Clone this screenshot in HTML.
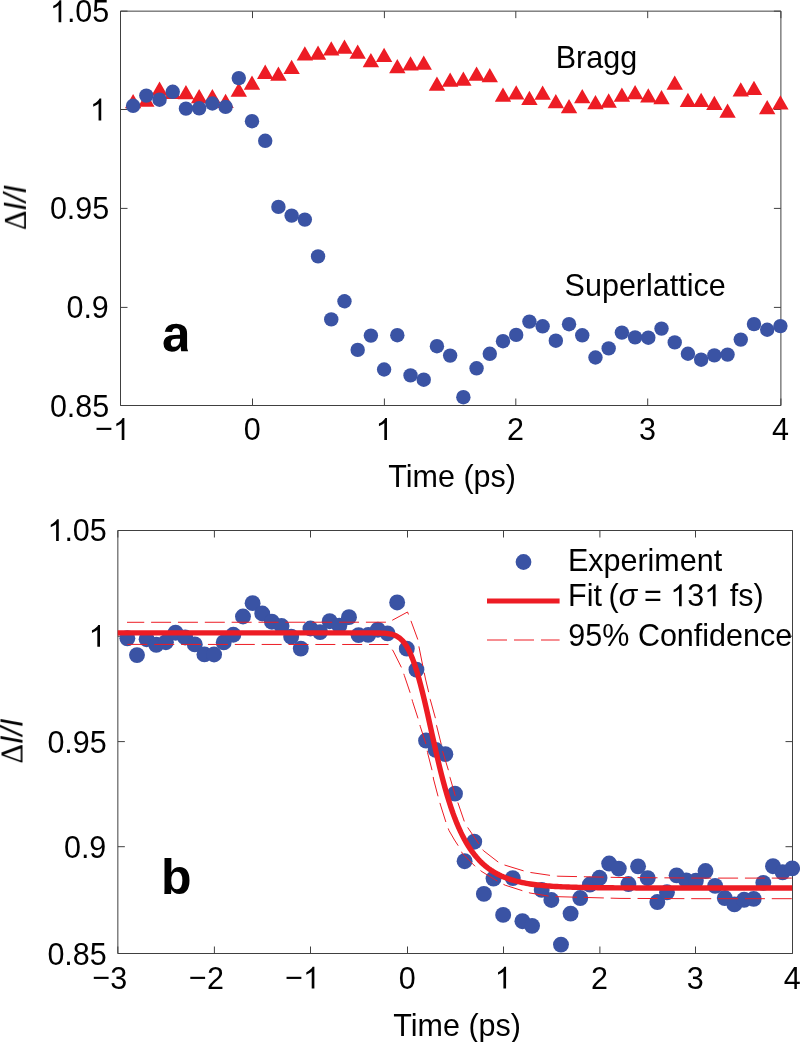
<!DOCTYPE html>
<html><head><meta charset="utf-8"><style>
html,body{margin:0;padding:0;background:#fff;}
svg{display:block;}
text{font-family:"Liberation Sans",sans-serif;font-size:30.5px;fill:#000;}
.t{opacity:0.999}
</style></head><body>
<svg width="800" height="1042" viewBox="0 0 800 1042">
<rect width="800" height="1042" fill="#fff"/>
<g class="t">
<path d="M120.5 11.15H780.9V405.5H120.5Z" fill="none" stroke="#404040" stroke-width="1"/>
<path d="M120.5 405.5v-7M120.5 11.15v7M252.5 405.5v-7M252.5 11.15v7M384.4 405.5v-7M384.4 11.15v7M515.8 405.5v-7M515.8 11.15v7M647.7 405.5v-7M647.7 11.15v7M780.9 405.5v-7M780.9 11.15v7M120.5 11.15h7M780.9 11.15h-7M120.5 109.5h7M780.9 109.5h-7M120.5 208.4h7M780.9 208.4h-7M120.5 307.4h7M780.9 307.4h-7M120.5 405.5h7M780.9 405.5h-7" stroke="#404040" stroke-width="1" fill="none"/>
<path d="M117.85 530.5H792.5V953.5H117.85Z" fill="none" stroke="#404040" stroke-width="1"/>
<path d="M117.85 953.5v-7M117.85 530.5v7M214.4 953.5v-7M214.4 530.5v7M310.5 953.5v-7M310.5 530.5v7M407.5 953.5v-7M407.5 530.5v7M503.5 953.5v-7M503.5 530.5v7M599.9 953.5v-7M599.9 530.5v7M695.5 953.5v-7M695.5 530.5v7M792.5 953.5v-7M792.5 530.5v7M117.85 530.5h7M792.5 530.5h-7M117.85 636.2h7M792.5 636.2h-7M117.85 741.6h7M792.5 741.6h-7M117.85 846.7h7M792.5 846.7h-7M117.85 953.5h7M792.5 953.5h-7" stroke="#404040" stroke-width="1" fill="none"/>
<path transform="translate(49.92 22.15) scale(0.01489 -0.01489)" d="M763 0H583V1147C540 1106 483 1065 413 1024C343 983 280 952 223 931V1105C324 1152 412 1210 487 1277C562 1344 615 1409 646 1472H763Z"/>
<text x="66.88" y="22.15">.05</text>
<path transform="translate(89.89 120.5) scale(0.01489 -0.01489)" d="M763 0H583V1147C540 1106 483 1065 413 1024C343 983 280 952 223 931V1105C324 1152 412 1210 487 1277C562 1344 615 1409 646 1472H763Z"/>
<text x="49.92" y="219.4">0.95</text>
<text x="66.45" y="318.4">0.9</text>
<text x="49.92" y="416.5">0.85</text>
<path transform="translate(47.42 541.1) scale(0.01489 -0.01489)" d="M763 0H583V1147C540 1106 483 1065 413 1024C343 983 280 952 223 931V1105C324 1152 412 1210 487 1277C562 1344 615 1409 646 1472H763Z"/>
<text x="64.38" y="541.1">.05</text>
<path transform="translate(88.64 646.8) scale(0.01489 -0.01489)" d="M763 0H583V1147C540 1106 483 1065 413 1024C343 983 280 952 223 931V1105C324 1152 412 1210 487 1277C562 1344 615 1409 646 1472H763Z"/>
<text x="47.42" y="752.8">0.95</text>
<text x="63.95" y="857.9">0.9</text>
<text x="47.42" y="964.5">0.85</text>
<text x="95.21" y="439.1">−</text>
<path transform="translate(113.02 440) scale(0.01489 -0.01489)" d="M763 0H583V1147C540 1106 483 1065 413 1024C343 983 280 952 223 931V1105C324 1152 412 1210 487 1277C562 1344 615 1409 646 1472H763Z"/>
<text x="243.72" y="440">0</text>
<path transform="translate(375.62 440) scale(0.01489 -0.01489)" d="M763 0H583V1147C540 1106 483 1065 413 1024C343 983 280 952 223 931V1105C324 1152 412 1210 487 1277C562 1344 615 1409 646 1472H763Z"/>
<text x="507.02" y="440">2</text>
<text x="638.92" y="440">3</text>
<text x="772.12" y="440">4</text>
<text x="92.56" y="987.7">−</text>
<text x="110.37" y="988.6">3</text>
<text x="189.11" y="987.7">−</text>
<text x="206.92" y="988.6">2</text>
<text x="285.21" y="987.7">−</text>
<path transform="translate(303.02 988.6) scale(0.01489 -0.01489)" d="M763 0H583V1147C540 1106 483 1065 413 1024C343 983 280 952 223 931V1105C324 1152 412 1210 487 1277C562 1344 615 1409 646 1472H763Z"/>
<text x="398.72" y="988.6">0</text>
<path transform="translate(494.72 988.6) scale(0.01489 -0.01489)" d="M763 0H583V1147C540 1106 483 1065 413 1024C343 983 280 952 223 931V1105C324 1152 412 1210 487 1277C562 1344 615 1409 646 1472H763Z"/>
<text x="591.12" y="988.6">2</text>
<text x="686.72" y="988.6">3</text>
<text x="783.72" y="988.6">4</text>
<text x="388.31" y="487">Time (ps)</text>
<text x="393.31" y="1035.75">Time (ps)</text>
<text x="555.75" y="68">Bragg</text>
<text x="564.61" y="295.8">Superlattice</text>
<path transform="translate(161.986 351.2) scale(0.025073 -0.024902)" d="M393 -20Q236 -20 148.0 65.5Q60 151 60 306Q60 474 169.5 562.0Q279 650 487 652L720 656V711Q720 817 683.0 868.5Q646 920 562 920Q484 920 447.5 884.5Q411 849 402 767L109 781Q136 939 253.5 1020.5Q371 1102 574 1102Q779 1102 890.0 1001.0Q1001 900 1001 714V160Q1001 60 1045 0H765Q750 70 749 193Q631 -20 393 -20ZM720 501 576 499Q478 495 437.0 477.5Q396 460 374.5 424.0Q353 388 353 328Q353 251 388.5 213.5Q424 176 483 176Q549 176 603.5 212.0Q658 248 689.0 311.5Q720 375 720 446Z"/>
<text x="161" y="894.3" style="font-size:50px;font-weight:bold">b</text>
<text transform="translate(25.9 207.6) rotate(-90)" text-anchor="middle"><tspan style="font-family:'Liberation Serif',serif">Δ</tspan><tspan font-style="italic">I/I</tspan></text>
<text transform="translate(22.5 741.1) rotate(-90)" text-anchor="middle"><tspan style="font-family:'Liberation Serif',serif">Δ</tspan><tspan font-style="italic">I/I</tspan></text>
<text x="567.9" y="570.9">Experiment</text>
<text x="568" y="606.2">Fit</text>
<text x="608.61" y="606.2">(</text>
<text x="618.69" y="606.2" font-style="italic">σ</text>
<text x="644.01" y="606.2">= </text>
<path transform="translate(670.3 606.2) scale(0.01489 -0.01489)" d="M763 0H583V1147C540 1106 483 1065 413 1024C343 983 280 952 223 931V1105C324 1152 412 1210 487 1277C562 1344 615 1409 646 1472H763Z"/>
<text x="687.26" y="606.2">3</text>
<path transform="translate(704.22 606.2) scale(0.01489 -0.01489)" d="M763 0H583V1147C540 1106 483 1065 413 1024C343 983 280 952 223 931V1105C324 1152 412 1210 487 1277C562 1344 615 1409 646 1472H763Z"/>
<text x="729.66" y="606.2">fs)</text>
<text x="568.37" y="645.8">95% Confidence</text>
<path d="M133.11 94L141.31 108.3H124.91ZM146.32 92.5L154.52 106.8H138.12ZM159.53 81.5L167.73 95.8H151.33ZM172.74 84.6L180.94 98.9H164.54ZM185.95 84.9L194.15 99.2H177.75ZM199.16 88.9L207.36 103.2H190.96ZM212.37 88.9L220.57 103.2H204.17ZM225.58 93.8L233.78 108.1H217.38ZM238.79 82.4L246.99 96.7H230.59ZM252 75.4L260.2 89.7H243.8ZM265.21 64.6L273.41 78.9H257.01ZM278.42 66.5L286.62 80.8H270.22ZM291.63 59.65L299.83 73.95H283.43ZM304.84 46.15L313.04 60.45H296.64ZM318.05 45.5L326.25 59.8H309.85ZM331.26 41.15L339.46 55.45H323.06ZM344.47 39.5L352.67 53.8H336.27ZM357.68 44.5L365.88 58.8H349.48ZM370.89 53L379.09 67.3H362.69ZM384.1 47.8L392.3 62.1H375.9ZM397.31 58.9L405.51 73.2H389.11ZM410.52 56.15L418.72 70.45H402.32ZM423.73 55.5L431.93 69.8H415.53ZM436.94 76.4L445.14 90.7H428.74ZM450.15 72.5L458.35 86.8H441.95ZM463.36 71.4L471.56 85.7H455.16ZM476.57 66.5L484.77 80.8H468.37ZM489.78 68L497.98 82.3H481.58ZM502.99 87.4L511.19 101.7H494.79ZM516.2 85.15L524.4 99.45H508ZM529.41 90.8L537.61 105.1H521.21ZM542.62 85.5L550.82 99.8H534.42ZM555.83 94L564.03 108.3H547.63ZM569.04 99L577.24 113.3H560.84ZM582.25 89L590.45 103.3H574.05ZM595.46 94.9L603.66 109.2H587.26ZM608.67 93.35L616.87 107.65H600.47ZM621.88 87.4L630.08 101.7H613.68ZM635.09 84.9L643.29 99.2H626.89ZM648.3 88.15L656.5 102.45H640.1ZM661.51 89.9L669.71 104.2H653.31ZM674.72 75.5L682.92 89.8H666.52ZM687.93 92.65L696.13 106.95H679.73ZM701.14 92.65L709.34 106.95H692.94ZM714.35 95.8L722.55 110.1H706.15ZM727.56 103.4L735.76 117.7H719.36ZM740.77 82.15L748.97 96.45H732.57ZM753.98 80.8L762.18 95.1H745.78ZM767.19 99.9L775.39 114.2H758.99ZM780.4 95.15L788.6 109.45H772.2Z" fill="#ed1c24"/>
<g fill="#3a53a4"><circle cx="133.11" cy="105.8" r="7.2"/><circle cx="146.32" cy="95.6" r="7.2"/><circle cx="159.53" cy="99.7" r="7.2"/><circle cx="172.74" cy="91.8" r="7.2"/><circle cx="185.95" cy="108.6" r="7.2"/><circle cx="199.16" cy="108.3" r="7.2"/><circle cx="212.37" cy="103.5" r="7.2"/><circle cx="225.58" cy="106.9" r="7.2"/><circle cx="238.79" cy="78.1" r="7.2"/><circle cx="252" cy="121.2" r="7.2"/><circle cx="265.21" cy="140.8" r="7.2"/><circle cx="278.42" cy="206.9" r="7.2"/><circle cx="291.63" cy="215.6" r="7.2"/><circle cx="304.84" cy="219.6" r="7.2"/><circle cx="318.05" cy="256.4" r="7.2"/><circle cx="331.26" cy="319.4" r="7.2"/><circle cx="344.47" cy="301.25" r="7.2"/><circle cx="357.68" cy="349.9" r="7.2"/><circle cx="370.89" cy="335.6" r="7.2"/><circle cx="384.1" cy="369.5" r="7.2"/><circle cx="397.31" cy="335.2" r="7.2"/><circle cx="410.52" cy="375.4" r="7.2"/><circle cx="423.73" cy="379.7" r="7.2"/><circle cx="436.94" cy="346.2" r="7.2"/><circle cx="450.15" cy="355.6" r="7.2"/><circle cx="463.36" cy="397.2" r="7.2"/><circle cx="476.57" cy="368.3" r="7.2"/><circle cx="489.78" cy="353.8" r="7.2"/><circle cx="502.99" cy="341.2" r="7.2"/><circle cx="516.2" cy="334.9" r="7.2"/><circle cx="529.41" cy="321.6" r="7.2"/><circle cx="542.62" cy="326.3" r="7.2"/><circle cx="555.83" cy="340.7" r="7.2"/><circle cx="569.04" cy="324.2" r="7.2"/><circle cx="582.25" cy="335.3" r="7.2"/><circle cx="595.46" cy="357.5" r="7.2"/><circle cx="608.67" cy="348.4" r="7.2"/><circle cx="621.88" cy="332.6" r="7.2"/><circle cx="635.09" cy="337.4" r="7.2"/><circle cx="648.3" cy="337.7" r="7.2"/><circle cx="661.51" cy="328.6" r="7.2"/><circle cx="674.72" cy="342.4" r="7.2"/><circle cx="687.93" cy="353.75" r="7.2"/><circle cx="701.14" cy="359.7" r="7.2"/><circle cx="714.35" cy="355.4" r="7.2"/><circle cx="727.56" cy="354.6" r="7.2"/><circle cx="740.77" cy="339.6" r="7.2"/><circle cx="753.98" cy="324.1" r="7.2"/><circle cx="767.19" cy="329.75" r="7.2"/><circle cx="780.4" cy="326.1" r="7.2"/></g>
<g fill="#3a53a4"><circle cx="127.36" cy="638.3" r="7.95"/><circle cx="136.99" cy="655.1" r="7.95"/><circle cx="146.63" cy="639.2" r="7.95"/><circle cx="156.26" cy="644.8" r="7.95"/><circle cx="165.9" cy="642.2" r="7.95"/><circle cx="175.54" cy="632.7" r="7.95"/><circle cx="185.17" cy="637.5" r="7.95"/><circle cx="194.81" cy="644.4" r="7.95"/><circle cx="204.44" cy="654.4" r="7.95"/><circle cx="214.08" cy="654.5" r="7.95"/><circle cx="223.72" cy="642.4" r="7.95"/><circle cx="233.35" cy="634.75" r="7.95"/><circle cx="242.99" cy="616.5" r="7.95"/><circle cx="252.62" cy="603.15" r="7.95"/><circle cx="262.26" cy="613.5" r="7.95"/><circle cx="271.9" cy="621.7" r="7.95"/><circle cx="281.53" cy="626" r="7.95"/><circle cx="291.17" cy="636.7" r="7.95"/><circle cx="300.8" cy="648.6" r="7.95"/><circle cx="310.44" cy="628.5" r="7.95"/><circle cx="320.08" cy="632.15" r="7.95"/><circle cx="329.71" cy="621.21" r="7.95"/><circle cx="339.35" cy="625.61" r="7.95"/><circle cx="348.98" cy="617.14" r="7.95"/><circle cx="358.62" cy="635.15" r="7.95"/><circle cx="368.26" cy="634.83" r="7.95"/><circle cx="377.89" cy="629.68" r="7.95"/><circle cx="387.53" cy="633.33" r="7.95"/><circle cx="397.16" cy="602.45" r="7.95"/><circle cx="406.8" cy="648.66" r="7.95"/><circle cx="416.44" cy="669.68" r="7.95"/><circle cx="426.07" cy="740.55" r="7.95"/><circle cx="435.71" cy="749.88" r="7.95"/><circle cx="445.34" cy="754.17" r="7.95"/><circle cx="454.98" cy="793.63" r="7.95"/><circle cx="464.62" cy="861.18" r="7.95"/><circle cx="474.25" cy="841.72" r="7.95"/><circle cx="483.89" cy="893.88" r="7.95"/><circle cx="493.52" cy="878.55" r="7.95"/><circle cx="503.16" cy="914.9" r="7.95"/><circle cx="512.8" cy="878.12" r="7.95"/><circle cx="522.43" cy="921.23" r="7.95"/><circle cx="532.07" cy="925.84" r="7.95"/><circle cx="541.7" cy="889.92" r="7.95"/><circle cx="551.34" cy="900" r="7.95"/><circle cx="560.98" cy="944.6" r="7.95"/><circle cx="570.61" cy="913.61" r="7.95"/><circle cx="580.25" cy="898.07" r="7.95"/><circle cx="589.88" cy="884.55" r="7.95"/><circle cx="599.52" cy="877.8" r="7.95"/><circle cx="609.16" cy="863.54" r="7.95"/><circle cx="618.79" cy="868.58" r="7.95"/><circle cx="628.43" cy="884.02" r="7.95"/><circle cx="638.06" cy="866.33" r="7.95"/><circle cx="647.7" cy="878.23" r="7.95"/><circle cx="657.34" cy="902.03" r="7.95"/><circle cx="666.97" cy="892.27" r="7.95"/><circle cx="676.61" cy="875.33" r="7.95"/><circle cx="686.24" cy="880.48" r="7.95"/><circle cx="695.88" cy="880.8" r="7.95"/><circle cx="705.52" cy="871.04" r="7.95"/><circle cx="715.15" cy="885.84" r="7.95"/><circle cx="724.79" cy="898.01" r="7.95"/><circle cx="734.42" cy="904.39" r="7.95"/><circle cx="744.06" cy="899.78" r="7.95"/><circle cx="753.7" cy="898.92" r="7.95"/><circle cx="763.33" cy="882.84" r="7.95"/><circle cx="772.97" cy="866.22" r="7.95"/><circle cx="782.6" cy="872.28" r="7.95"/><circle cx="792.24" cy="868.36" r="7.95"/></g>
<polyline points="117.72,632.9 119.65,632.9 121.57,632.9 123.5,632.9 125.43,632.9 127.36,632.9 129.28,632.9 131.21,632.9 133.14,632.9 135.06,632.9 136.99,632.9 138.92,632.9 140.85,632.9 142.77,632.9 144.7,632.9 146.63,632.9 148.56,632.9 150.48,632.9 152.41,632.9 154.34,632.9 156.26,632.9 158.19,632.9 160.12,632.9 162.05,632.9 163.97,632.9 165.9,632.9 167.83,632.9 169.75,632.9 171.68,632.9 173.61,632.9 175.54,632.9 177.46,632.9 179.39,632.9 181.32,632.9 183.24,632.9 185.17,632.9 187.1,632.9 189.03,632.9 190.95,632.9 192.88,632.9 194.81,632.9 196.74,632.9 198.66,632.9 200.59,632.9 202.52,632.9 204.44,632.9 206.37,632.9 208.3,632.9 210.23,632.9 212.15,632.9 214.08,632.9 216.01,632.9 217.93,632.9 219.86,632.9 221.79,632.9 223.72,632.9 225.64,632.9 227.57,632.9 229.5,632.9 231.42,632.9 233.35,632.9 235.28,632.9 237.21,632.9 239.13,632.9 241.06,632.9 242.99,632.9 244.92,632.9 246.84,632.9 248.77,632.9 250.7,632.9 252.62,632.9 254.55,632.9 256.48,632.9 258.41,632.9 260.33,632.9 262.26,632.9 264.19,632.9 266.11,632.9 268.04,632.9 269.97,632.9 271.9,632.9 273.82,632.9 275.75,632.9 277.68,632.9 279.6,632.9 281.53,632.9 283.46,632.9 285.39,632.9 287.31,632.9 289.24,632.9 291.17,632.9 293.1,632.9 295.02,632.9 296.95,632.9 298.88,632.9 300.8,632.9 302.73,632.9 304.66,632.9 306.59,632.9 308.51,632.9 310.44,632.9 312.37,632.9 314.29,632.9 316.22,632.9 318.15,632.9 320.08,632.9 322,632.9 323.93,632.9 325.86,632.9 327.78,632.9 329.71,632.9 331.64,632.9 333.57,632.9 335.49,632.9 337.42,632.9 339.35,632.9 341.28,632.9 343.2,632.9 345.13,632.9 347.06,632.9 348.98,632.9 350.91,632.9 352.84,632.9 354.77,632.9 356.69,632.9 358.62,632.9 360.55,632.9 362.47,632.9 364.4,632.9 366.33,632.9 368.26,632.91 370.18,632.91 372.11,632.92 374.04,632.93 375.96,632.94 377.89,632.97 379.82,633.01 381.75,633.08 383.67,633.17 385.6,633.31 387.53,633.52 389.46,633.8 391.38,634.2 393.31,634.75 395.24,635.48 397.16,636.44 399.09,637.68 401.02,639.26 402.95,641.24 404.87,643.67 406.8,646.6 408.73,650.09 410.65,654.17 412.58,658.86 414.51,664.18 416.44,670.11 418.36,676.63 420.29,683.69 422.22,691.24 424.14,699.19 426.07,707.47 428,715.97 429.93,724.61 431.85,733.29 433.78,741.93 435.71,750.43 437.64,758.74 439.56,766.79 441.49,774.54 443.42,781.95 445.34,788.99 447.27,795.66 449.2,801.95 451.13,807.86 453.05,813.41 454.98,818.59 456.91,823.43 458.83,827.95 460.76,832.16 462.69,836.08 464.62,839.72 466.54,843.12 468.47,846.27 470.4,849.21 472.32,851.94 474.25,854.47 476.18,856.83 478.11,859.02 480.03,861.06 481.96,862.96 483.89,864.72 485.82,866.36 487.74,867.88 489.67,869.3 491.6,870.61 493.52,871.83 495.45,872.97 497.38,874.03 499.31,875.01 501.23,875.93 503.16,876.78 505.09,877.57 507.01,878.3 508.94,878.98 510.87,879.62 512.8,880.21 514.72,880.75 516.65,881.26 518.58,881.74 520.5,882.18 522.43,882.59 524.36,882.97 526.29,883.32 528.21,883.65 530.14,883.96 532.07,884.24 534,884.51 535.92,884.75 537.85,884.98 539.78,885.19 541.7,885.39 543.63,885.57 545.56,885.74 547.49,885.9 549.41,886.05 551.34,886.19 553.27,886.32 555.19,886.43 557.12,886.54 559.05,886.65 560.98,886.74 562.9,886.83 564.83,886.91 566.76,886.99 568.68,887.06 570.61,887.13 572.54,887.19 574.47,887.25 576.39,887.3 578.32,887.35 580.25,887.39 582.18,887.44 584.1,887.48 586.03,887.51 587.96,887.55 589.88,887.58 591.81,887.61 593.74,887.64 595.67,887.66 597.59,887.69 599.52,887.71 601.45,887.73 603.37,887.75 605.3,887.77 607.23,887.78 609.16,887.8 611.08,887.81 613.01,887.82 614.94,887.84 616.86,887.85 618.79,887.86 620.72,887.87 622.65,887.88 624.57,887.89 626.5,887.89 628.43,887.9 630.36,887.91 632.28,887.92 634.21,887.92 636.14,887.93 638.06,887.93 639.99,887.94 641.92,887.94 643.85,887.95 645.77,887.95 647.7,887.95 649.63,887.96 651.55,887.96 653.48,887.96 655.41,887.96 657.34,887.97 659.26,887.97 661.19,887.97 663.12,887.97 665.04,887.98 666.97,887.98 668.9,887.98 670.83,887.98 672.75,887.98 674.68,887.98 676.61,887.98 678.54,887.99 680.46,887.99 682.39,887.99 684.32,887.99 686.24,887.99 688.17,887.99 690.1,887.99 692.03,887.99 693.95,887.99 695.88,887.99 697.81,887.99 699.73,887.99 701.66,887.99 703.59,887.99 705.52,887.99 707.44,888 709.37,888 711.3,888 713.22,888 715.15,888 717.08,888 719.01,888 720.93,888 722.86,888 724.79,888 726.72,888 728.64,888 730.57,888 732.5,888 734.42,888 736.35,888 738.28,888 740.21,888 742.13,888 744.06,888 745.99,888 747.91,888 749.84,888 751.77,888 753.7,888 755.62,888 757.55,888 759.48,888 761.4,888 763.33,888 765.26,888 767.19,888 769.11,888 771.04,888 772.97,888 774.9,888 776.82,888 778.75,888 780.68,888 782.6,888 784.53,888 786.46,888 788.39,888 790.31,888 792.24,888" fill="none" stroke="#ed1c24" stroke-width="5.4" stroke-linejoin="round"/>
<polyline points="127,622.3 386,622.2 386.5,622.05" fill="none" stroke="#ed1c24" stroke-width="1" stroke-dasharray="20 6.85" stroke-dashoffset="2.75"/>
<polyline points="386.5,622.05 392.2,620.3 407.5,612 408.5,614.5 411,621 417.8,639.5 419,647 421.6,660 425.5,679 428.8,692.6 430.2,699.3 435.5,718.5 436.5,725.3 441.3,744.5 442.5,751 448.5,770.5 450,777.5 455.5,796.5 458,803 464.5,822 467.7,827.5 479,844 483.5,850.7 498.5,862.3 504.5,865 524,871 530.7,872.5 551,875.5 557,876.13" fill="none" stroke="#ed1c24" stroke-width="1" stroke-dasharray="20 6.85" stroke-dashoffset="20.85"/>
<polyline points="557,876.13 557.7,876.2 620,877.5 700,878.1 792.5,878.1" fill="none" stroke="#ed1c24" stroke-width="1" stroke-dasharray="20 6.85" stroke-dashoffset="0"/>
<polyline points="127,644.4 388.5,644.5" fill="none" stroke="#ed1c24" stroke-width="1" stroke-dasharray="20 6.85" stroke-dashoffset="26.45"/>
<polyline points="388.5,644.5 393.2,651 402.2,669 404.3,675.4 410.6,694.1 412.5,701.3 418.7,720.5 420.2,726.2 426.4,745.4 427.5,752.5 432.5,772 433.5,779 438.5,798 440.5,805 446.5,824 449,830.5 454.5,840 459.5,847.7 462.5,853.7 476,867.2 482,871.7 499.2,882.2 505.2,885.2 524,891.2 530,893 551,896.5 557,896.67" fill="none" stroke="#ed1c24" stroke-width="1" stroke-dasharray="20 6.85" stroke-dashoffset="20.5"/>
<polyline points="557,896.67 620,898.4 700,898.7 792.5,898.7" fill="none" stroke="#ed1c24" stroke-width="1" stroke-dasharray="20 6.85" stroke-dashoffset="0"/>
<circle cx="523.5" cy="562" r="7.9" fill="#3a53a4"/>
<path d="M487 601H559.6" stroke="#ed1c24" stroke-width="5.2"/>
<path d="M487 640H559.6" stroke="#ed1c24" stroke-width="1" stroke-dasharray="20 7"/>
</g>
</svg>
</body></html>
